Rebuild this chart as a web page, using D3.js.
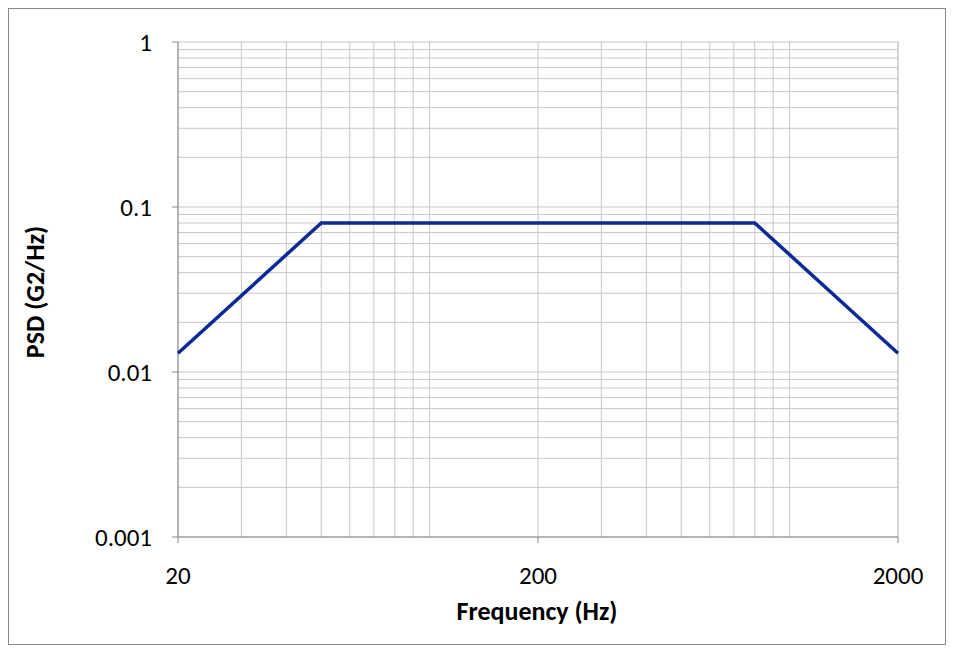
<!DOCTYPE html><html><head><meta charset="utf-8">
<script src="https://cdn.jsdelivr.net/npm/d3@7"></script>
<style>body{margin:0;background:#fff}text{font-family:Carlito,"Open Sans",sans-serif}</style></head><body>
<svg id="c" width="954" height="651"></svg>
<script>
const freq=[20,50,800,2000];
const psd=[0.013,0.08,0.08,0.013];
const xTicks=[20,200,2000];
const yTicks=[0.001,0.01,0.1,1];
const svg=d3.select("#c");
svg.append("rect").attr("x",8.5).attr("y",8.5).attr("width",937).attr("height",636).attr("fill","#fff").attr("stroke","#888");
const L=178,R=898,T=42,B=537;
const x=d3.scaleLog().domain([20,2000]).range([L,R]);
const y=d3.scaleLog().domain([0.001,1]).range([B,T]);
const g=svg.append("g");
const xg=[];for(let d=10;d<=1000;d*=10)for(let k=1;k<10;k++){const v=d*k;if(v>=20&&v<=2000)xg.push(v);}xg.push(2000);
const yg=[];for(let d=0.001;d<1;d*=10)for(let k=1;k<10;k++)yg.push(d*k);yg.push(1);
g.selectAll(".xg").data(xg).join("line").attr("x1",d=>x(d)).attr("x2",d=>x(d)).attr("y1",T).attr("y2",B).attr("stroke","#c8c8c8");
g.selectAll(".yg").data(yg).join("line").attr("y1",d=>y(d)).attr("y2",d=>y(d)).attr("x1",L).attr("x2",R).attr("stroke","#c8c8c8");
g.append("line").attr("x1",L).attr("x2",L).attr("y1",T).attr("y2",B).attr("stroke","#888");
g.append("line").attr("x1",L).attr("x2",R).attr("y1",B).attr("y2",B).attr("stroke","#888");
g.selectAll(".yt").data(yTicks).join("line").attr("x1",L-6).attr("x2",L).attr("y1",d=>y(d)).attr("y2",d=>y(d)).attr("stroke","#888");
g.selectAll(".xt").data(xTicks).join("line").attr("x1",d=>x(d)).attr("x2",d=>x(d)).attr("y1",B).attr("y2",B+6).attr("stroke","#888");
g.selectAll(".yl").data(yTicks).join("text").attr("x",L-26).attr("y",d=>y(d)).attr("dy","0.35em").attr("text-anchor","end").attr("font-size",25).text(d=>String(d));
g.selectAll(".xl").data(xTicks).join("text").attr("x",d=>x(d)).attr("y",B+47).attr("text-anchor","middle").attr("font-size",25).text(d=>d);
svg.append("path").datum(freq.map((f,i)=>[f,psd[i]])).attr("d",d3.line().x(d=>x(d[0])).y(d=>y(d[1]))).attr("fill","none").attr("stroke","#0b2a96").attr("stroke-width",3.5);
svg.append("text").attr("x",537).attr("y",620).attr("text-anchor","middle").attr("font-size",26).attr("font-weight","bold").text("Frequency (Hz)");
svg.append("text").attr("transform","translate(44,292) rotate(-90)").attr("text-anchor","middle").attr("font-size",26).attr("font-weight","bold").text("PSD (G2/Hz)");
</script></body></html>
